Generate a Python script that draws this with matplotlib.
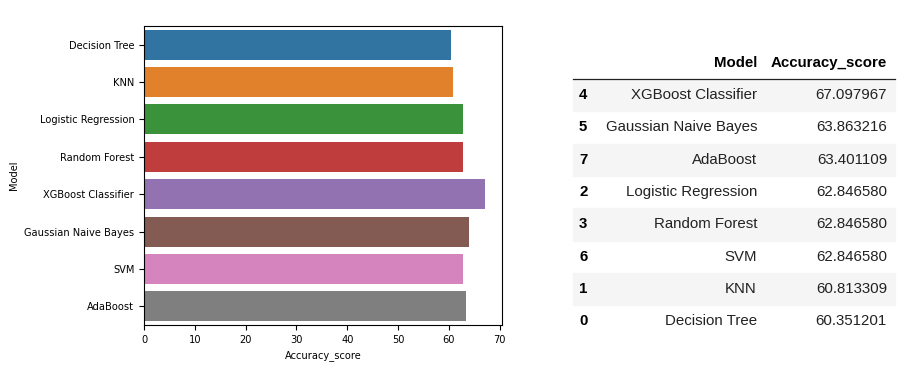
import pandas as pd
import matplotlib.pyplot as plt
from matplotlib.patches import Rectangle

# model results
models = ['Decision Tree', 'KNN', 'Logistic Regression', 'Random Forest',
          'XGBoost Classifier', 'Gaussian Naive Bayes', 'SVM', 'AdaBoost']
scores = [60.351201, 60.813309, 62.846580, 62.846580,
          67.097967, 63.863216, 62.846580, 63.401109]
colors = ['#3274a1', '#e1812c', '#3a923a', '#c03d3e',
          '#9372b2', '#845b53', '#d684bd', '#7f7f7f']

df = pd.DataFrame({'Model': models, 'Accuracy_score': scores})
df_sorted = df.sort_values('Accuracy_score', ascending=False, kind='mergesort')

W, H = 924, 377
fig = plt.figure(figsize=(W / 100, H / 100), dpi=100)

# bar chart on the left
ax = fig.add_axes([144 / W, 1 - 325 / H, (502 - 144) / W, (325 - 26) / H])
ax.barh(range(len(models)), df['Accuracy_score'], height=0.8, color=colors)
ax.set_yticks(range(len(models)))
ax.set_yticklabels(models, fontsize=7.1)
ax.set_ylim(len(models) - 0.5, -0.5)
ax.set_xticks(range(0, 71, 10))
ax.tick_params(axis='x', labelsize=7.1)
ax.set_xlabel('Accuracy_score', fontsize=7.1)
ax.set_ylabel('Model', fontsize=7.1)
ax.margins(x=0.05)

# dataframe-like table on the right
left, right = 573, 895
header_y = 63
line_y = 79
row_h = 32.3
fs = 10.8
font = 'Liberation Sans'

def fx(px):
    return px / W

def fy(py):
    return 1 - py / H

fig.text(fx(757), fy(header_y), 'Model', ha='right', va='center',
         fontsize=fs, fontweight='bold', family=font)
fig.text(fx(887), fy(header_y), 'Accuracy_score', ha='right', va='center',
         fontsize=fs, fontweight='bold', family=font)
fig.add_artist(plt.Line2D([fx(left), fx(right)], [fy(line_y), fy(line_y)],
                          color='#222222', lw=0.9))

for i, (idx, row) in enumerate(df_sorted.iterrows()):
    top = line_y + i * row_h
    if i % 2 == 0:
        fig.add_artist(Rectangle((fx(left), fy(top + row_h)), fx(right - left),
                                 row_h / H, color='#f5f5f5', zorder=0))
    yc = fy(top + row_h / 2)
    fig.text(fx(579), yc, str(idx), ha='left', va='center',
             fontsize=fs, fontweight='bold', family=font)
    fig.text(fx(757), yc, row['Model'], ha='right', va='center',
             fontsize=fs, family=font, color='#222222')
    fig.text(fx(887), yc, f"{row['Accuracy_score']:.6f}", ha='right',
             va='center', fontsize=fs, family=font, color='#222222')

fig.savefig('out.png', dpi=100)
